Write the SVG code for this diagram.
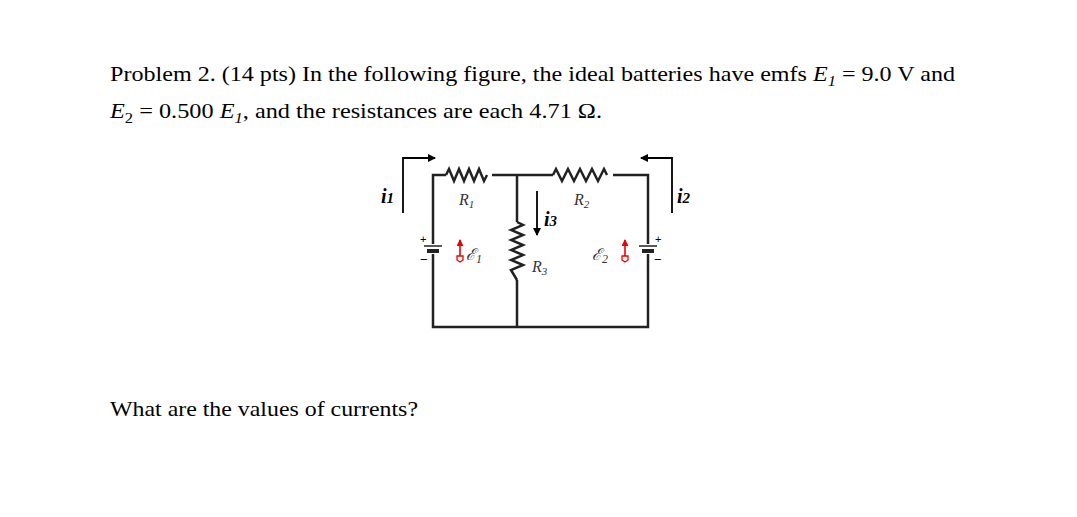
<svg xmlns="http://www.w3.org/2000/svg" width="1077" height="517" viewBox="0 0 1077 517">
<defs>
<style>
.t{font-family:"Liberation Serif",serif;font-size:22px;fill:#000}
.w{fill:none;stroke:#222;stroke-width:2.5}
.a{fill:none;stroke:#000;stroke-width:1.8}
.l{font-family:"Liberation Serif",serif;font-style:italic;font-size:16px;fill:#333}
.b{font-family:"Liberation Serif",serif;font-weight:bold;font-style:italic;font-size:20px;fill:#000}
.r{fill:none;stroke:#e00;stroke-width:1.6}
</style>
<marker id="ah" markerWidth="8" markerHeight="8" refX="7" refY="4" orient="auto" markerUnits="userSpaceOnUse"><path d="M0,0 L8,4 L0,8 Z" fill="#000"/></marker>
<marker id="rh" markerWidth="7" markerHeight="8" refX="6" refY="3.5" orient="auto" markerUnits="userSpaceOnUse"><path d="M0,0 L7,3.5 L0,7 Z" fill="#e00"/></marker>
</defs>
<rect width="1077" height="517" fill="#fff"/>
<g id="text">
<text class="t" x="110" y="81" textLength="845" lengthAdjust="spacingAndGlyphs">Problem 2. (14 pts) In the following figure, the ideal batteries have emfs <tspan font-style="italic">E</tspan><tspan font-style="italic" font-size="15" dy="5">1</tspan><tspan dy="-5"> = 9.0 V and</tspan></text>
<text class="t" x="110" y="118" textLength="492" lengthAdjust="spacingAndGlyphs"><tspan font-style="italic">E</tspan><tspan font-size="15" dy="5">2</tspan><tspan dy="-5"> = 0.500 </tspan><tspan font-style="italic">E</tspan><tspan font-style="italic" font-size="15" dy="5">1</tspan><tspan dy="-5">, and the resistances are each 4.71 Ω.</tspan></text>
<text class="t" x="110" y="416" textLength="308" lengthAdjust="spacingAndGlyphs">What are the values of currents?</text>
</g>
<g id="connectors">
<path class="w" d="M446,175 H433 V327 H648 V175 H613"/>
<path class="w" d="M492,175 H553"/>
<path class="w" d="M517,175 V222 M517,280 V327"/>
</g>
<g id="R1"><path class="w" d="M446,175 l3,-6 l5,12 l5,-12 l5,12 l5,-12 l5,12 l5,-12 l5,12 l3,-6"/><text class="l" x="459" y="205">R<tspan font-size="11" dy="3">1</tspan></text></g>
<g id="R2"><path class="w" d="M553,175 l3,-6 l6,12 l6,-12 l6,12 l6,-12 l6,12 l6,-12 l6,12 l6,-12 l3,6"/><text class="l" x="574" y="205">R<tspan font-size="11" dy="3">2</tspan></text></g>
<g id="R3"><path class="w" d="M517,222 l6,3 l-12,5 l12,5 l-12,5 l12,5 l-12,5 l12,5 l-12,5 l12,5 l-12,5 l6,10"/><text class="l" x="532" y="272">R<tspan font-size="11" dy="3">3</tspan></text></g>
<g id="E1">
<rect x="425" y="244" width="16" height="10" fill="#fff"/>
<line x1="424" y1="246" x2="442" y2="246" stroke="#222" stroke-width="1.5"/>
<line x1="427" y1="251" x2="439" y2="251" stroke="#222" stroke-width="4"/>
<text x="420" y="243" font-family="Liberation Sans,sans-serif" font-size="11">+</text>
<text x="420" y="264" font-family="Liberation Sans,sans-serif" font-size="13">−</text>
<path class="r" d="M460,256 V240" marker-end="url(#rh)"/><path d="M457,256 h6 v4 l-3,2 l-3,-2 z" fill="#fff" stroke="#e00" stroke-width="1.3"/>
<text class="l" x="466" y="260" font-size="19">ℰ<tspan font-size="12" dy="3">1</tspan></text>
</g>
<g id="E2">
<rect x="640" y="244" width="16" height="10" fill="#fff"/>
<line x1="639" y1="246" x2="657" y2="246" stroke="#222" stroke-width="1.5"/>
<line x1="642" y1="251" x2="654" y2="251" stroke="#222" stroke-width="4"/>
<text x="655" y="243" font-family="Liberation Sans,sans-serif" font-size="11">+</text>
<text x="654" y="264" font-family="Liberation Sans,sans-serif" font-size="13">−</text>
<path class="r" d="M625,256 V240" marker-end="url(#rh)"/><path d="M622,256 h6 v4 l-3,2 l-3,-2 z" fill="#fff" stroke="#e00" stroke-width="1.3"/>
<text class="l" x="592" y="260" font-size="19">ℰ<tspan font-size="12" dy="3">2</tspan></text>
</g>
<g id="i1"><path class="a" d="M403,213 V158 H435" marker-end="url(#ah)"/><text class="b" x="381" y="203">i<tspan font-size="15">1</tspan></text></g>
<g id="i2"><path class="a" d="M672,213 V158 H641" marker-end="url(#ah)"/><text class="b" x="677" y="203">i<tspan font-size="15">2</tspan></text></g>
<g id="i3"><path class="a" d="M537,191 V235" marker-end="url(#ah)"/><text class="b" x="544" y="226">i<tspan font-size="15">3</tspan></text></g>
</svg>
